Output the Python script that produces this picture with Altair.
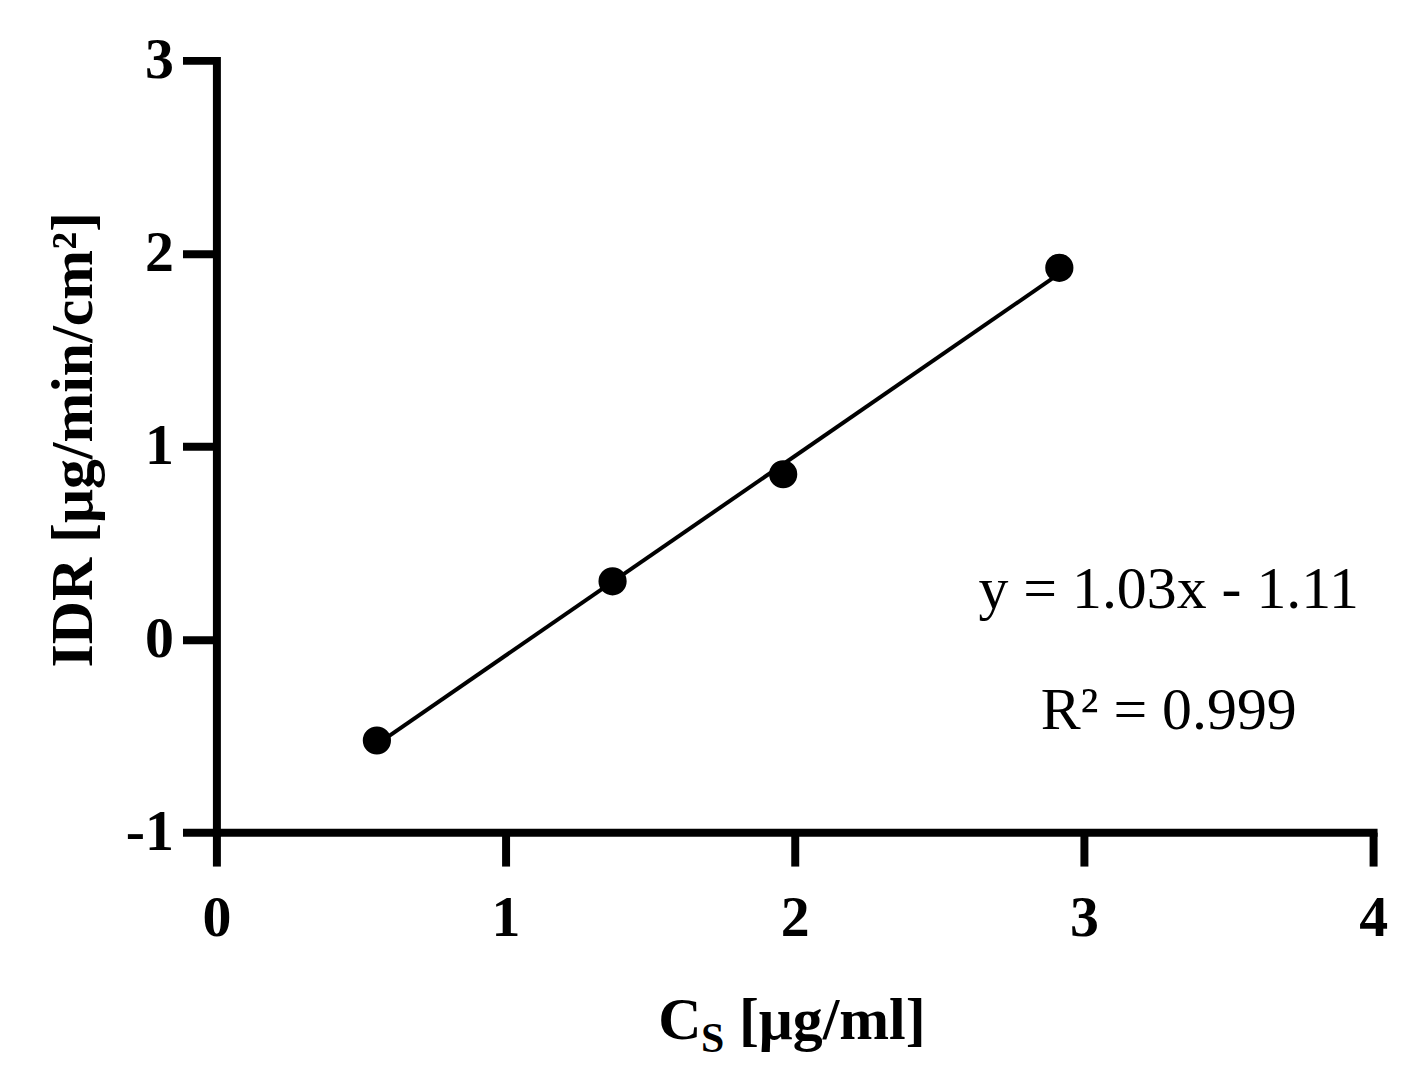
import altair as alt
import pandas as pd

# Data
cs_values = [0.555, 1.37, 1.96, 2.915]
idr_values = [-0.525, 0.30, 0.855, 1.925]

x_ticks = [0, 1, 2, 3, 4]
y_ticks = [-1, 0, 1, 2, 3]

y_title = "IDR [μg/min/cm²]"
x_title_main = "C"
x_title_sub = "S"
x_title_rest = "[μg/ml]"
eq_text = "y = 1.03x - 1.11"
r2_text = "R² = 0.999"

df = pd.DataFrame({"cs": cs_values, "idr": idr_values})

FONT = "Liberation Serif"
W, H = 1160, 774

xscale = alt.Scale(domain=[0, 4], nice=False, zero=False)
yscale = alt.Scale(domain=[-1, 3], nice=False, zero=False)

xaxis = alt.Axis(values=x_ticks, title=None, labelExpr="'' + datum.value",
                 labelPadding=24, labelFlush=False)
yaxis = alt.Axis(values=y_ticks, title=y_title, labelExpr="'' + datum.value",
                 labelPadding=9, labelFlush=False,
                 titleX=-125, titleY=380, titleAngle=270, titleAlign="center",
                 titleBaseline="alphabetic", titleFont=FONT, titleFontSize=60,
                 titleFontWeight="bold", titleColor="black")

base = alt.Chart(df)

line = base.transform_regression("cs", "idr").mark_line(
    color="black", strokeWidth=4
).encode(
    x=alt.X("cs:Q", scale=xscale, axis=xaxis),
    y=alt.Y("idr:Q", scale=yscale, axis=yaxis),
)

points = base.mark_circle(size=800, color="black", opacity=1).encode(
    x=alt.X("cs:Q", scale=xscale),
    y=alt.Y("idr:Q", scale=yscale),
)


def label(text, x, y, size, weight="normal", align="left", baseline="alphabetic"):
    return alt.Chart(pd.DataFrame({"t": [text]})).mark_text(
        font=FONT, fontSize=size, fontWeight=weight, color="black",
        align=align, baseline=baseline,
    ).encode(text="t:N", x=alt.value(x), y=alt.value(y))


texts = [
    label(eq_text, 955, 549, 60, align="center"),
    label(r2_text, 955, 671, 60, align="center"),
    label(x_title_main, 443, 981, 60, weight="bold"),
    label(x_title_sub, 486, 994, 42, weight="bold"),
    label(x_title_rest, 524, 981, 60, weight="bold"),
]

chart = alt.layer(line, points, *texts).properties(
    width=W, height=H,
    autosize=alt.AutoSizeParams(type="none"),
    padding={"left": 209, "top": 51, "right": 30, "bottom": 240},
).configure_view(stroke=None).configure_axis(
    grid=False,
    domainColor="black", domainWidth=8, domainCap="square",
    tickColor="black", tickWidth=8, tickSize=34, tickCap="butt",
    labelFont=FONT, labelFontSize=58, labelFontWeight="bold", labelColor="black",
).configure_axisX(labelBaseline="top")

chart.save("out.html", embed_options={"renderer": "svg", "actions": False})
